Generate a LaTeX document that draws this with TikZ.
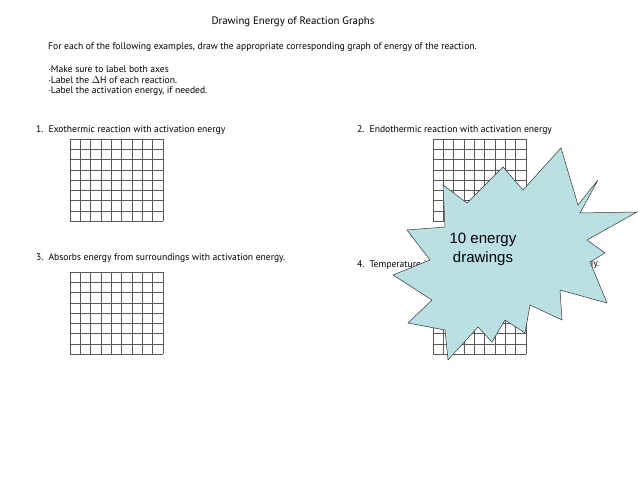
\documentclass[tikz,border=0pt]{standalone}
\usepackage{fontspec}
\setmainfont{PT Sans}
\newfontfamily\arialf{Liberation Sans}
\begin{document}
\begin{tikzpicture}[x=1pt,y=-1pt,
  txt/.style={anchor=west,inner sep=0pt,font=\fontsize{9.6}{11}\selectfont},
  gridbox/.style={draw=black!65,line width=0.35pt}]
\useasboundingbox (0,0) rectangle (638,478);
\fill[white] (0,0) rectangle (638,478);
\node[inner sep=0pt,font=\fontsize{10.8}{12}\selectfont] (title) at (293,22) {Drawing Energy of Reaction Graphs};
\node[txt] (intro) at (48,47) {For each of the following examples, draw the appropriate corresponding graph of energy of the reaction.};
\node[txt] (b1) at (48,69) {$\cdot$Make sure to label both axes};
\node[txt] (b2) at (48,80) {$\cdot$Label the $\Delta$H of each reaction.};
\node[txt] (b3) at (48,91) {$\cdot$Label the activation energy, if needed.};
\node[txt] (q1) at (36,130) {1.\ \ Exothermic reaction with activation energy};
\node[txt] (q2) at (357,130) {2.\ \ Endothermic reaction with activation energy};
\node[txt] (q3) at (36,258) {3.\ \ Absorbs energy from surroundings with activation energy.};
\node[txt] (q4) at (357,265) {4.\ \ Temperature is};
\node[txt] (q4b) at (588,265) {gy.};
\foreach \x/\y in {70/139, 433/139, 70/272, 433/272}{
  \foreach \i in {0,...,9} \draw[gridbox] (\x+\i*10.33,\y) -- (\x+\i*10.33,\y+82);
  \foreach \j in {0,...,8} \draw[gridbox] (\x,\y+\j*10.25) -- (\x+93,\y+\j*10.25);
}
\draw[fill={rgb,255:red,186;green,224;blue,228},draw=black!80,line width=0.5pt]
 (561,148)--(578,205)--(598,180)--(580,213)--(637,212)--(587,240)--(605,253)--(590,262)--(607,303)
 --(560,290)--(562,320)--(530,305)--(525,333)--(505,320)--(492,342)--(478,327)--(448,360)--(445,330)
 --(408,323)--(432,300)--(393,275)--(430,260)--(407,230)--(445,227)--(443,185)--(467,203)--(503,167)
 --(523,190)--cycle;
\node[align=center,inner sep=0pt,font=\arialf\fontsize{15}{19}\selectfont] (star) at (483,249) {10 energy\\drawings};
\end{tikzpicture}
\end{document}
